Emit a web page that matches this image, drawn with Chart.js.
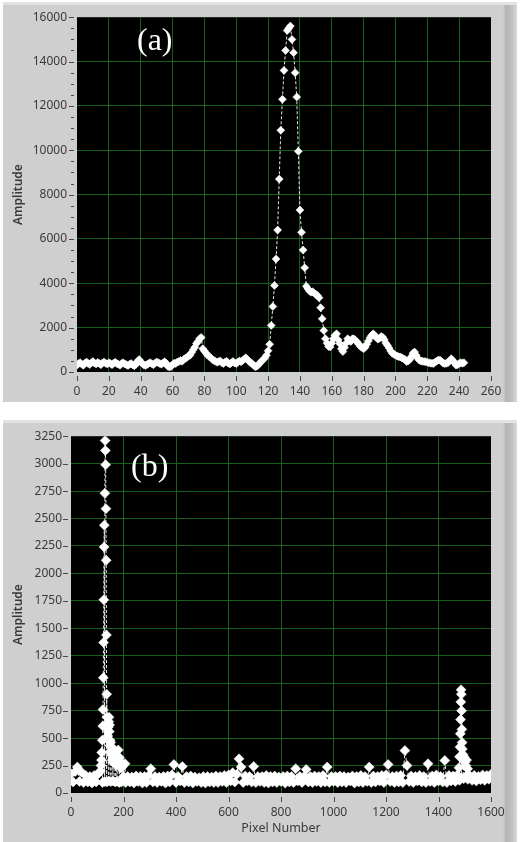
<!DOCTYPE html>
<html>
<head>
<meta charset="utf-8">
<script src="https://cdn.jsdelivr.net/npm/chart.js"></script>
<style>
  html, body { margin: 0; padding: 0; background: #fff; }
  body { width: 520px; height: 842px; position: relative; overflow: hidden; }
  .panel {
    position: absolute; left: 3px; width: 514px;
    background: linear-gradient(to right, #cfcfcf 0, #cfcfcf 500px, #b3b3b3 503px, #c4c4c4 510px, #dadada 514px);
    border-top: 3px solid #e2e2e2;
    box-sizing: border-box;
  }
  .box { position: absolute; left: 0; width: 520px; }
  .tag {
    position: absolute; color: #fff;
    font-family: "Liberation Serif", serif; font-size: 32px; line-height: 32px;
  }
</style>
</head>
<body>
<div class="panel" style="top:2px;height:400px;"></div>
<div class="panel" style="top:420px;height:422px;"></div>
<div class="box" style="top:0;height:401px;"><canvas id="chart-a"></canvas></div>
<div class="box" style="top:420px;height:422px;"><canvas id="chart-b"></canvas></div>
<div class="tag" style="left:137px;top:23px;">(a)</div>
<div class="tag" style="left:131px;top:449px;">(b)</div>
<script>
// panel (a): amplitude for pixel 0..243
var aY = [
  310, 380, 420, 350, 300, 400, 450, 380, 340, 420, 470, 400, 360, 430, 380, 330, 410, 450, 390, 360,
  420, 380, 330, 400, 440, 380, 350, 300, 380, 420, 360, 330, 290, 350, 380, 320, 280, 340, 480, 560,
  450, 380, 320, 290, 340, 380, 420, 370, 330, 400, 450, 420, 380, 350, 410, 460, 400, 260, 220, 250,
  330, 400, 380, 450, 470, 520, 480, 560, 620, 650, 720, 760, 880, 1000, 1120, 1280, 1380, 1500, 1560, 1050,
  950, 860, 760, 700, 640, 560, 520, 480, 440, 470, 500, 420, 380, 450, 480, 400, 360, 420, 470, 410,
  380, 440, 500, 460, 520, 580, 640, 560, 480, 420, 380, 300, 240, 260, 330, 420, 500, 560, 640, 760,
  960, 1250, 2100, 2950, 3900, 5100, 6400, 8700, 10900, 12300, 13600, 14500, 15400, 15500, 15600, 15000, 14400, 13500, 12400, 9950,
  7300, 6300, 5500, 4700, 3870, 3750, 3650, 3600, 3620, 3550, 3500, 3450, 3350, 2900, 2400, 1870, 1500, 1300, 1150, 1130,
  1300, 1500, 1650, 1720, 1450, 1280, 1050, 920, 1100, 1300, 1500, 1420, 1380, 1500, 1490, 1420, 1350, 1250, 1150, 1100,
  1050, 1120, 1250, 1400, 1550, 1650, 1720, 1650, 1550, 1480, 1520, 1600, 1570, 1450, 1300, 1200, 1080, 950, 850, 800,
  760, 720, 690, 680, 640, 600, 560, 470, 500, 560, 700, 850, 900, 760, 620, 530, 500, 480, 470, 460,
  440, 420, 400, 390, 380, 450, 500, 540, 530, 470, 400, 380, 390, 420, 500, 600, 520, 420, 310, 330,
  380, 420, 390, 420
];

// panel (b): background band sampled every 8 pixels (0..1600)
var bBaseStep = 8;
var bBase = [
  175, 100, 195, 236, 105, 190, 95, 160, 100, 150,
  90, 160, 100, 175, 200, 95, 105, 100, 110, 105,
  110, 100, 105, 95, 100, 150, 95, 150, 100, 145,
  90, 155, 105, 150, 90, 150, 95, 160, 222, 100,
  150, 95, 145, 105, 150, 90, 155, 100, 165, 260,
  95, 150, 110, 242, 95, 150, 100, 155, 90, 145,
  105, 140, 95, 150, 90, 150, 100, 145, 95, 155,
  95, 150, 105, 160, 95, 165, 110, 185, 100, 170,
  311, 236, 95, 155, 110, 150, 100, 242, 95, 150,
  105, 150, 95, 160, 90, 150, 100, 155, 95, 145,
  105, 150, 90, 155, 100, 150, 95, 222, 110, 150,
  95, 150, 215, 100, 150, 95, 155, 105, 150, 95,
  160, 100, 236, 95, 150, 105, 150, 95, 155, 100,
  150, 95, 145, 110, 155, 90, 150, 100, 160, 95,
  150, 105, 236, 95, 155, 100, 150, 110, 160, 95,
  165, 260, 105, 150, 95, 155, 100, 160, 95, 386,
  251, 105, 155, 95, 150, 110, 160, 100, 150, 95,
  267, 105, 155, 95, 165, 110, 150, 100, 296, 95,
  160, 110, 155, 105, 165, 115, 140, 130, 150, 125,
  155, 115, 160, 110, 150, 120, 165, 115, 160, 125,
  170
];

// panel (b): the two peaks
var bPeak1X = [114, 116, 117, 119, 121, 122, 123, 124, 125, 126, 127, 129, 130, 131, 132, 133, 134, 135, 136, 137,
  139, 140, 141, 142, 143, 144, 145, 146, 147, 148, 149, 150, 151, 153, 155, 157, 158, 160, 163, 167,
  170, 172, 176, 180, 183, 185, 188, 190, 196, 206];
var bPeak1Y = [250, 300, 370, 480, 610, 760, 1050, 1370, 1760, 2240, 2440, 2730, 3210, 3120, 2990, 2590, 2120, 1440, 900, 690,
  630, 520, 560, 600, 480, 650, 690, 560, 620, 430, 480, 380, 460, 350, 420, 300, 380, 280, 350, 326,
  260, 300, 340, 392, 280, 320, 230, 280, 240, 267];
var bPeak2X = [1478, 1480, 1482, 1483, 1484, 1485, 1486, 1487, 1488, 1489, 1490, 1491, 1493, 1495, 1497, 1500, 1504, 1507, 1511];
var bPeak2Y = [230, 330, 420, 540, 670, 830, 940, 900, 750, 580, 460, 400, 350, 300, 330, 280, 250, 300, 220];

var aTicksX = { min: 0, max: 260, step: 20 };
var aTicksY = { min: 0, max: 16000, step: 2000, minor: 500 };
var bTicksX = { min: 0, max: 1600, step: 200 };
var bTicksY = { min: 0, max: 3250, step: 250, minor: 0 };

document.addEventListener("DOMContentLoaded", function() {
  Chart.defaults.font.family = "'Noto Sans', sans-serif";
  Chart.defaults.color = "#3a3a3a";

  var green = "#176017";

  var plotBack = {
    id: "plotBack",
    beforeDraw: function(chart) {
      var a = chart.chartArea, ctx = chart.ctx;
      ctx.save();
      ctx.fillStyle = "#000";
      ctx.fillRect(a.left, a.top, a.right - a.left, a.bottom - a.top);
      ctx.restore();
    }
  };

  // small dark tick marks outside the plot, like the instrument panel
  var tickMarks = {
    id: "tickMarks",
    afterDraw: function(chart, args, opts) {
      var a = chart.chartArea, ctx = chart.ctx;
      var xs = chart.scales.x, ys = chart.scales.y;
      ctx.save();
      ctx.strokeStyle = "#4a4a4a";
      ctx.lineWidth = 1;
      ctx.beginPath();
      xs.ticks.forEach(function(t) {
        var px = Math.round(xs.getPixelForValue(t.value)) + 0.5;
        ctx.moveTo(px, a.bottom + 4);
        ctx.lineTo(px, a.bottom + 9);
      });
      ys.ticks.forEach(function(t) {
        var py = Math.round(ys.getPixelForValue(t.value)) + 0.5;
        ctx.moveTo(a.left - 8, py);
        ctx.lineTo(a.left - 3, py);
      });
      if (opts.minor) {
        for (var v = ys.min; v <= ys.max; v += opts.minor) {
          if (v % opts.major === 0) continue;
          var py = Math.round(ys.getPixelForValue(v)) + 0.5;
          ctx.moveTo(a.left - 6, py);
          ctx.lineTo(a.left - 3, py);
        }
      }
      ctx.stroke();
      ctx.restore();
    }
  };

  function gridColor(lim) {
    return function(c) {
      if (!c.tick) return green;
      return (c.tick.value === lim.min || c.tick.value === lim.max) ? "rgba(0,0,0,0)" : green;
    };
  }

  function plain(v) { return String(v); }

  function makeOptions(tx, ty, pad, yWidth, xHeight, xTitle, yPad) {
    return {
      responsive: true,
      maintainAspectRatio: false,
      animation: false,
      layout: { padding: pad },
      plugins: {
        legend: { display: false },
        tooltip: { enabled: false },
        tickMarks: { minor: ty.minor, major: ty.step }
      },
      scales: {
        x: {
          type: "linear",
          min: tx.min, max: tx.max,
          afterFit: function(s) { s.height = xHeight; },
          grid: { color: gridColor(tx), lineWidth: 1, drawTicks: false },
          border: { display: false },
          ticks: { stepSize: tx.step, padding: 12, maxRotation: 0, autoSkip: false, font: { size: 12 }, callback: plain },
          title: {
            display: !!xTitle, text: xTitle || "",
            color: "#3a3a3a", font: { size: 12.5 }, padding: { top: 0, bottom: 6 }
          }
        },
        y: {
          min: ty.min, max: ty.max,
          afterFit: function(s) { s.width = yWidth; },
          grid: { color: gridColor(ty), lineWidth: 1, drawTicks: false },
          border: { display: false },
          ticks: { stepSize: ty.step, padding: yPad, autoSkip: false, font: { size: 12 }, callback: plain },
          title: {
            display: true, text: "Amplitude",
            color: "#3a3a3a", font: { size: 12, weight: "600" }, padding: { top: 11, bottom: 0 }
          }
        }
      }
    };
  }

  function lineSet(points, r) {
    return {
      data: points,
      showLine: true,
      borderColor: "#e6e6e6",
      borderWidth: 1,
      borderDash: [3, 2],
      pointStyle: "rectRot",
      pointRadius: r,
      pointBackgroundColor: "#fff",
      pointBorderColor: "#fff",
      pointBorderWidth: 0.5
    };
  }

  var aPoints = aY.map(function(v, i) { return { x: i, y: v }; });

  var bPoints = bBase.map(function(v, i) { return { x: i * bBaseStep, y: v }; })
    .concat(bPeak1X.map(function(x, i) { return { x: x, y: bPeak1Y[i] }; }))
    .concat(bPeak2X.map(function(x, i) { return { x: x, y: bPeak2Y[i] }; }))
    .sort(function(p, q) { return p.x - q.x; });

  new Chart(document.getElementById("chart-a").getContext("2d"), {
    type: "scatter",
    data: { datasets: [lineSet(aPoints, 4)] },
    options: makeOptions(aTicksX, aTicksY, { top: 12, right: 29, left: 0, bottom: 0 }, 77, 29, null, 10),
    plugins: [plotBack, tickMarks]
  });

  new Chart(document.getElementById("chart-b").getContext("2d"), {
    type: "scatter",
    data: { datasets: [lineSet(bPoints, 5)] },
    options: makeOptions(bTicksX, bTicksY, { top: 11, right: 29, left: 0, bottom: 0 }, 71, 49, "Pixel Number", 9),
    plugins: [plotBack, tickMarks]
  });
});
</script>
</body>
</html>
